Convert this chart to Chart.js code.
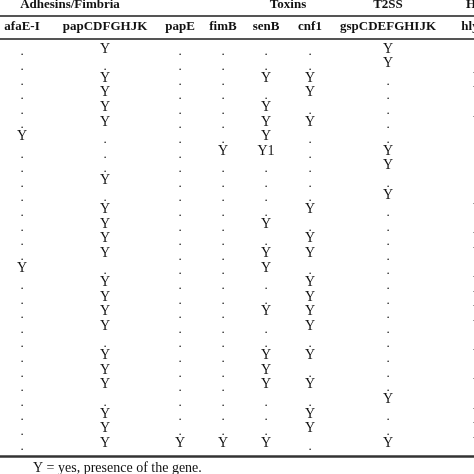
<!DOCTYPE html><html><head><meta charset="utf-8">
<script src="https://cdn.jsdelivr.net/npm/chart.js@4"></script>
<style>html,body{margin:0;padding:0;background:#fff}#w{width:474px;height:474px}</style></head><body><div id="w"><canvas id="c"></canvas></div>
<script>
const groups = ["Adhesins/Fimbria","Toxins","T2SS","H"];
const columns = ["afaE-I","papCDFGHJK","papE","fimB","senB","cnf1","gspCDEFGHIJK","hly"];
// one string per column, one character per row: Y = yes, . = absent, 1 = Y1
const cells = [
 "......Y........Y............",
 "Y.YYYY...Y.YYYY.YYYY.YYY.YYY",
 "...........................Y",
 ".......Y...................Y",
 "..Y.YYY1....Y.YY..Y..YYY...Y",
 "..YY.Y.....Y.YY.YYYY.Y.Y.YY.",
 "YY.....YY.Y.............Y..Y",
 "..YY.Y.....Y.YY.YYYY.Y.Y.YYY"
].map(s=>s.slice(0,28));
const footnote = "Y = yes, presence of the gene.";

const colX=[22,105,180,223,266,310,388,478];
const groupX=[70,288,388,471];
const F='"Liberation Serif","DejaVu Serif",serif';
const datasets=columns.map((c,i)=>({label:c,data:cells[i].split('').map((v,r)=>({x:colX[i],y:r,t:v})),pointRadius:0}));
const tablePlugin={id:'tbl',afterDatasetsDraw(ch){
 const g=ch.ctx;g.save();g.fillStyle='#111';g.textAlign='center';g.textBaseline='middle';
 ch.data.datasets.forEach((ds,i)=>{ch.getDatasetMeta(i).data.forEach((el,r)=>{
  const t=ds.data[r].t;
  if(t==='.'){g.font='13px '+F;g.fillText('.',el.x,el.y+3);}
  else{g.font='14px '+F;g.fillText(t==='1'?'Y1':'Y',el.x,el.y);}
 });});
 g.font='bold 13px '+F;
 groups.forEach((s,i)=>g.fillText(s,groupX[i],5));
 columns.forEach((s,i)=>g.fillText(s==='hly'?'hly':s,colX[i]+(i===7?-8:0),27));
 g.strokeStyle='#555';g.lineWidth=2;
 [16,39].forEach(y=>{g.beginPath();g.moveTo(0,y);g.lineTo(474,y);g.stroke();});
 g.strokeStyle='#333';g.lineWidth=2.5;g.beginPath();g.moveTo(0,456.5);g.lineTo(474,456.5);g.stroke();
 g.textAlign='left';g.font='14px '+F;g.fillText(footnote,33,468);
 g.restore();}};
new Chart(document.getElementById('c'),{type:'scatter',data:{datasets},
 options:{responsive:true,maintainAspectRatio:false,animation:false,layout:{padding:0},
  plugins:{legend:{display:false},tooltip:{enabled:false}},
  scales:{x:{type:'linear',display:false,min:0,max:474},
   y:{type:'linear',display:false,reverse:true,min:-3.356,max:29.11}}},
 plugins:[tablePlugin]});
</script></body></html>
